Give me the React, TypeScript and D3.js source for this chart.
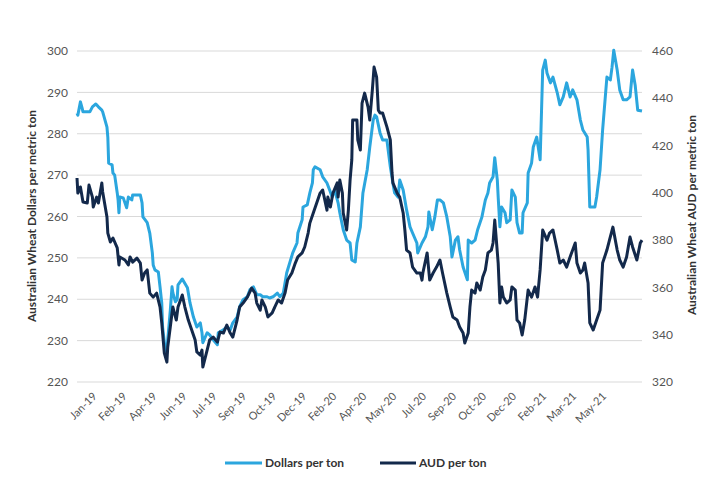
import React from "react";
import * as d3 from "d3";

// Trading-day index (0 = first observation) and price readings
const usdDay = [0,1,4,6,7,15,18,22,25,29,30,35,36,37,41,42,44,47,48,49,50,54,58,60,64,65,74,76,77,82,85,88,89,91,95,97,99,100,103,105,106,109,111,112,115,117,118,123,129,132,136,140,144,146,147,152,155,159,164,165,171,175,179,182,187,190,194,199,202,206,210,214,217,222,225,229,234,237,241,245,252,257,258,263,264,269,272,275,276,278,284,287,292,296,298,301,305,307,311,315,319,321,325,327,331,334,339,342,346,348,350,354,357,362,366,369,371,375,377,381,385,389,392,397,398,403,407,410,411,415,418,421,424,428,432,436,438,442,445,447,451,456,457,461,465,468,473,477,480,482,486,488,491,492,494,496,500,502,506,508,512,514,517,520,521,526,527,531,533,537,541,542,544,547,549,553,556,561,564,568,572,576,579,584,588,591,596,597,599,605,607,611,614,619,623,625,627,631,634,638,642,646,649,652,655,660];
const usdValue = [285.0,284.5,287.7,286.2,285.3,285.3,286.5,287.2,286.5,285.7,285.3,281.6,279.2,272.9,272.5,270.5,270.0,265.7,264.0,260.9,264.7,264.5,262.1,264.7,264.0,265.2,265.2,263.3,259.9,258.5,256.0,251.2,248.3,247.1,246.6,243.0,239.1,233.3,227.8,227.1,230.2,237.4,243.0,241.5,239.4,239.9,243.5,244.9,242.8,239.1,235.7,233.3,234.3,231.9,229.5,231.9,231.4,230.2,229.0,231.9,232.6,233.3,232.6,234.3,235.7,238.2,239.9,240.6,242.3,243.0,241.1,241.1,240.6,240.6,240.3,240.6,241.5,240.6,241.5,246.4,251.2,253.6,256.0,259.2,262.3,262.8,265.7,268.1,271.3,272.0,271.3,269.6,268.1,265.9,264.7,266.4,263.3,260.9,256.8,254.3,253.6,249.5,249.0,253.6,257.5,265.7,271.3,276.8,283.3,284.5,284.1,280.2,278.5,278.5,272.0,268.1,265.7,264.7,268.8,266.4,261.6,257.5,256.0,253.6,251.2,253.6,255.1,257.5,261.1,256.8,259.9,264.0,264.0,263.3,259.9,255.1,250.2,254.3,255.1,251.9,247.8,244.7,254.3,253.6,254.3,256.8,259.9,264.0,265.7,268.1,269.6,274.2,268.8,264.7,257.5,262.3,260.9,258.5,259.2,266.4,264.7,258.5,256.0,256.0,260.9,263.3,270.5,272.9,276.8,279.2,273.7,280.9,295.4,297.8,294.7,292.3,293.7,289.9,287.0,288.9,292.3,288.9,290.6,288.2,283.3,280.9,279.2,276.1,262.3,262.3,264.7,271.3,280.9,293.7,293.0,296.1,300.2,295.4,290.6,288.2,288.2,288.9,295.4,291.8,285.7,285.5];

const audDay = [0,1,4,7,12,14,18,19,23,25,29,30,35,36,39,42,47,49,50,56,60,62,65,70,74,76,79,82,85,89,93,97,99,102,105,106,109,111,112,116,118,123,126,130,134,138,140,144,146,147,152,155,159,164,167,171,175,179,182,187,190,194,199,204,208,210,214,216,220,223,228,231,235,239,243,246,251,255,258,263,266,270,272,276,280,284,287,292,293,296,299,304,305,307,310,311,315,317,319,321,322,327,328,331,333,336,340,342,345,347,350,352,354,357,362,366,368,369,374,377,381,383,385,389,392,397,401,403,404,409,412,416,420,424,427,432,436,439,444,447,451,453,457,459,461,465,467,471,474,477,480,484,486,488,492,494,496,498,502,506,508,512,514,517,520,523,527,531,535,538,541,544,549,552,556,561,564,568,572,576,579,582,584,588,591,593,597,599,603,607,611,614,619,622,626,631,634,638,642,646,649,654,658,660];
const audValue = [406.3,399.9,402.5,396.1,395.7,403.3,398.2,394.0,398.2,395.7,404.2,400.4,389.8,383.0,379.2,380.9,376.7,369.5,372.9,371.6,369.5,372.9,370.7,372.4,370.3,363.1,366.1,367.4,357.6,355.9,357.6,351.7,345.0,332.2,328.4,334.8,343.3,349.2,351.7,346.2,351.7,356.8,351.7,346.2,342.0,337.8,332.7,331.4,333.5,326.3,333.5,337.8,339.0,336.9,341.1,340.7,344.1,340.7,339.0,346.2,351.7,353.4,355.9,359.7,357.6,353.4,350.4,354.7,351.7,347.5,349.2,351.7,354.7,353.4,357.6,363.1,366.1,370.3,372.9,374.6,377.1,383.0,387.2,391.5,395.7,399.9,401.2,392.7,398.2,394.0,399.9,404.2,398.2,405.4,399.9,391.5,384.3,392.7,405.4,413.9,430.8,430.8,422.4,418.1,438.0,442.2,436.3,430.8,443.5,453.2,449.0,435.0,433.8,433.8,427.9,422.4,408.4,404.2,399.9,398.2,391.5,384.3,375.8,374.6,368.6,366.1,366.1,363.1,366.1,374.6,363.1,366.1,368.6,371.6,366.1,357.6,351.7,347.5,346.2,343.3,340.7,336.5,340.7,351.7,358.9,357.6,361.9,358.9,364.4,367.4,374.6,375.8,378.8,388.5,370.3,353.4,360.2,355.9,353.4,354.7,360.2,358.9,346.2,345.0,339.9,346.2,358.9,355.9,360.2,355.9,367.4,384.3,380.0,383.0,384.3,375.8,370.3,371.6,368.6,372.9,375.8,378.8,370.3,366.1,367.4,370.3,361.9,345.0,342.0,346.2,350.4,370.3,375.8,380.0,385.5,375.8,371.6,368.6,372.9,381.3,377.1,371.6,378.8,380.0];

const tickLabels = ["Jan-19","Feb-19","Apr-19","Jun-19","Jul-19","Sep-19","Oct-19","Dec-19","Feb-20","Apr-20","May-20","Jul-20","Sep-20","Oct-20","Dec-20","Feb-21","Mar-21","May-21"];
const firstLabelDay = 24;
const labelEvery = 35;
const leftTicks = [220,230,240,250,260,270,280,290,300];
const rightTicks = [320,340,360,380,400,420,440,460];

const BLUE = "#2ba6de";
const NAVY = "#13294b";
const FONT = "Lato, 'Open Sans', sans-serif";

export default function App() {
  const x = d3.scaleLinear().domain([0, 660]).range([77, 642]);
  const yL = d3.scaleLinear().domain([220, 300]).range([382, 51]);
  const yR = d3.scaleLinear().domain([320, 460]).range([382, 51]);

  const usdLine = d3.line<number>().x((_, i) => x(usdDay[i])).y((v) => yL(v));
  const audLine = d3.line<number>().x((_, i) => x(audDay[i])).y((v) => yR(v));

  return (
    <svg width={720} height={500} style={{ position: "absolute", left: 0, top: 0, background: "#fff" }} fontFamily={FONT}>
      {leftTicks.map((t) => (
        <g key={"l" + t}>
          <line x1={77} x2={642} y1={yL(t)} y2={yL(t)} stroke="#d9d9d9" strokeWidth={1} />
          <text x={68} y={yL(t)} dy="0.35em" textAnchor="end" fontSize={12} fill="#555">{t}</text>
        </g>
      ))}
      {rightTicks.map((t) => (
        <text key={"r" + t} x={652} y={yR(t)} dy="0.35em" textAnchor="start" fontSize={12} fill="#555">{t}</text>
      ))}
      {tickLabels.map((lab, i) => {
        const px = x(firstLabelDay + i * labelEvery);
        return (
          <text key={lab} transform={`translate(${px},397) rotate(-45)`} textAnchor="end" fontSize={11} fill="#555">{lab}</text>
        );
      })}
      <text transform="translate(36,216) rotate(-90)" textAnchor="middle" fontSize={12} fontWeight={700} fill="#333">Australian Wheat Dollars per metric ton</text>
      <text transform="translate(696,215) rotate(-90)" textAnchor="middle" fontSize={12} fontWeight={700} fill="#333">Australian Wheat AUD per metric ton</text>

      <path d={usdLine(usdValue) || ""} fill="none" stroke={BLUE} strokeWidth={3} strokeLinejoin="round" />
      <path d={audLine(audValue) || ""} fill="none" stroke={NAVY} strokeWidth={3} strokeLinejoin="round" />

      <g>
        <line x1={225} x2={262} y1={463} y2={463} stroke={BLUE} strokeWidth={3} />
        <text x={265} y={463} dy="0.35em" fontSize={12} fontWeight={700} fill="#333">Dollars per ton</text>
        <line x1={380} x2={416} y1={463} y2={463} stroke={NAVY} strokeWidth={3} />
        <text x={419} y={463} dy="0.35em" fontSize={12} fontWeight={700} fill="#333">AUD per ton</text>
      </g>
    </svg>
  );
}
